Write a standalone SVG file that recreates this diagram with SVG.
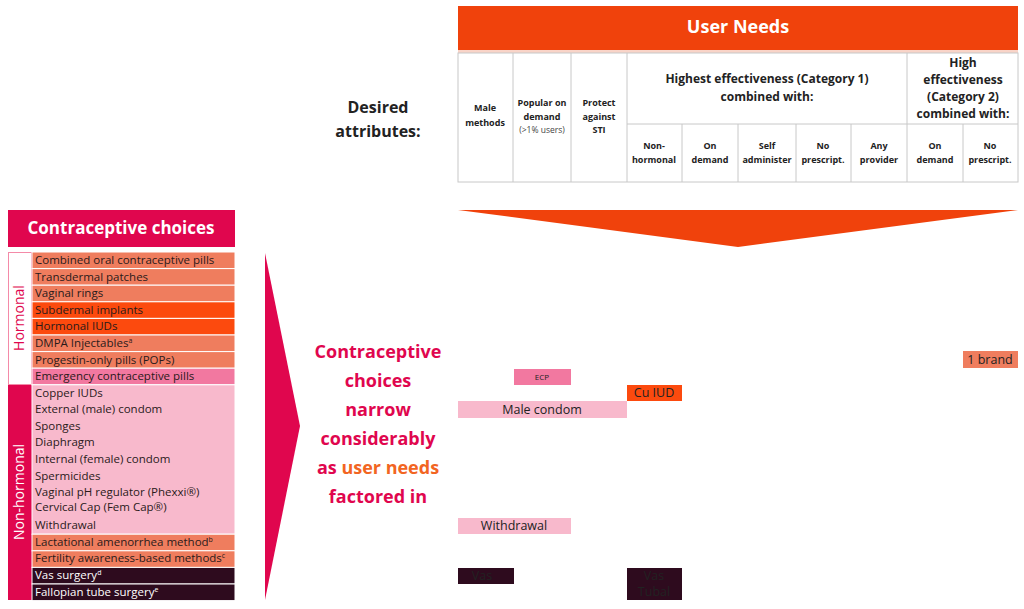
<svg xmlns="http://www.w3.org/2000/svg" width="1024" height="609" viewBox="0 0 1024 609">
<style>
text{font-family:"Open Sans","DejaVu Sans",sans-serif}
.r{font-size:11.5px;fill:#2a1a1a}
.w{fill:#fff}
.h{font-size:9px;font-weight:bold;fill:#222;text-anchor:middle}
.g{stroke:#c8c8c8;stroke-width:1;fill:none}
.b{font-size:12.5px;text-anchor:middle;fill:#222}
</style>
<rect width="1024" height="609" fill="#fff"/>
<g id="header">
<rect x="458" y="6" width="560" height="44" fill="#f0420c"/>
<text x="738" y="33" font-size="18" font-weight="bold" fill="#fff" text-anchor="middle">User Needs</text>
<rect x="458" y="50" width="560" height="3" fill="#f9d4c8"/>
</g>
<g id="table">
<rect x="458" y="53" width="560" height="129" class="g"/>
<path class="g" d="M513 53V182M571 53V182M627 53V182M907 53V182M627 124H1018M682 124V182M738 124V182M796 124V182M851 124V182M963 124V182"/>
<text class="h" x="485" y="111">Male</text><text class="h" x="485" y="126">methods</text>
<text class="h" x="542" y="106">Popular on</text><text class="h" x="542" y="120">demand</text><text x="542" y="133" font-size="8.5" fill="#444" text-anchor="middle">(&gt;1% users)</text>
<text class="h" x="599" y="106">Protect</text><text class="h" x="599" y="120">against</text><text class="h" x="599" y="133">STI</text>
<text x="767" y="83" font-size="12" font-weight="bold" fill="#222" text-anchor="middle">Highest effectiveness (Category 1)</text>
<text x="767" y="101" font-size="12" font-weight="bold" fill="#222" text-anchor="middle">combined with:</text>
<text x="963" y="67" font-size="12" font-weight="bold" fill="#222" text-anchor="middle">High</text>
<text x="963" y="84" font-size="12" font-weight="bold" fill="#222" text-anchor="middle">effectiveness</text>
<text x="963" y="101" font-size="12" font-weight="bold" fill="#222" text-anchor="middle">(Category 2)</text>
<text x="963" y="118" font-size="12" font-weight="bold" fill="#222" text-anchor="middle">combined with:</text>
<text class="h" x="654" y="149">Non-</text><text class="h" x="654" y="163">hormonal</text>
<text class="h" x="710" y="149">On</text><text class="h" x="710" y="163">demand</text>
<text class="h" x="767" y="149">Self</text><text class="h" x="767" y="163">administer</text>
<text class="h" x="823" y="149">No</text><text class="h" x="823" y="163">prescript.</text>
<text class="h" x="879" y="149">Any</text><text class="h" x="879" y="163">provider</text>
<text class="h" x="935" y="149">On</text><text class="h" x="935" y="163">demand</text>
<text class="h" x="990" y="149">No</text><text class="h" x="990" y="163">prescript.</text>
</g>
<g id="desired">
<text x="378" y="113" font-size="16" font-weight="bold" fill="#222" text-anchor="middle">Desired</text>
<text x="378" y="137" font-size="16" font-weight="bold" fill="#222" text-anchor="middle">attributes:</text>
</g>
<g id="connectors">
<polygon points="458,210 1018,210 738,247" fill="#f0420c"/>
<polygon points="265,253 265,600 300,426" fill="#e0064e"/>
</g>
<g id="choices">
<rect x="8" y="210" width="227" height="37" fill="#e0064e"/>
<text x="121" y="234" font-size="17" font-weight="bold" fill="#fff" text-anchor="middle">Contraceptive choices</text>
<rect x="8.5" y="252.5" width="23" height="132" fill="#fff" stroke="#f48aa8"/>
<text transform="translate(24 318) rotate(-90)" font-size="14" fill="#e0064e" text-anchor="middle">Hormonal</text>
<rect x="8" y="385" width="24" height="215" fill="#e0064e"/>
<text transform="translate(24 492) rotate(-90)" font-size="14" fill="#fff" text-anchor="middle">Non-hormonal</text>
<g stroke="#fff" stroke-width="1">
<rect x="32" y="252" width="203" height="16.6" fill="#ef7d5e"/>
<rect x="32" y="268.6" width="203" height="16.6" fill="#ef7d5e"/>
<rect x="32" y="285.2" width="203" height="16.6" fill="#ef7d5e"/>
<rect x="32" y="301.8" width="203" height="16.6" fill="#fc4a0e"/>
<rect x="32" y="318.4" width="203" height="16.6" fill="#fc4a0e"/>
<rect x="32" y="335" width="203" height="16.6" fill="#ef7d5e"/>
<rect x="32" y="351.6" width="203" height="16.6" fill="#ef7d5e"/>
<rect x="32" y="368.2" width="203" height="16.6" fill="#f278a0"/>
<rect x="32" y="384.8" width="203" height="149.4" fill="#f8b9cc"/>
<rect x="32" y="534.2" width="203" height="16.6" fill="#ef7d5e"/>
<rect x="32" y="550.8" width="203" height="16.6" fill="#ef7d5e"/>
<rect x="32" y="567.4" width="203" height="16.6" fill="#2e0b1e"/>
<rect x="32" y="584" width="203" height="16.6" fill="#2e0b1e"/>
</g>
<g class="r">
<text x="35" y="264">Combined oral contraceptive pills</text>
<text x="35" y="281">Transdermal patches</text>
<text x="35" y="297">Vaginal rings</text>
<text x="35" y="314">Subdermal implants</text>
<text x="35" y="330">Hormonal IUDs</text>
<text x="35" y="347">DMPA Injectables<tspan font-size="7" dy="-4">a</tspan></text>
<text x="35" y="364">Progestin-only pills (POPs)</text>
<text x="35" y="380">Emergency contraceptive pills</text>
<text x="35" y="397">Copper IUDs</text>
<text x="35" y="413">External (male) condom</text>
<text x="35" y="430">Sponges</text>
<text x="35" y="446">Diaphragm</text>
<text x="35" y="463">Internal (female) condom</text>
<text x="35" y="480">Spermicides</text>
<text x="35" y="496">Vaginal pH regulator (Phexxi®)</text>
<text x="35" y="511">Cervical Cap (Fem Cap®)</text>
<text x="35" y="529">Withdrawal</text>
<text x="35" y="546">Lactational amenorrhea method<tspan font-size="7" dy="-4">b</tspan></text>
<text x="35" y="562">Fertility awareness-based methods<tspan font-size="7" dy="-4">c</tspan></text>
<text x="35" y="579" fill="#fff">Vas surgery<tspan font-size="7" dy="-4">d</tspan></text>
<text x="35" y="596" fill="#fff">Fallopian tube surgery<tspan font-size="7" dy="-4">e</tspan></text>
</g>
</g>
<g id="narrow" font-size="18" font-weight="bold" fill="#e0064e" text-anchor="middle">
<text x="378" y="358">Contraceptive</text>
<text x="378" y="387">choices</text>
<text x="378" y="416">narrow</text>
<text x="378" y="445">considerably</text>
<text x="378" y="474">as <tspan fill="#f26522">user needs</tspan></text>
<text x="378" y="503">factored in</text>
</g>
<g id="bars">
<rect x="963" y="351" width="55" height="17" fill="#ef7d5e"/><text class="b" x="990" y="364">1 brand</text>
<rect x="514" y="369" width="57" height="16" fill="#f278a0"/><text x="542" y="380" font-size="8" fill="#222" text-anchor="middle">ECP</text>
<rect x="627" y="385" width="55" height="16" fill="#fc4a0e"/><text class="b" x="654" y="397" fill="#fff">Cu IUD</text>
<rect x="458" y="401" width="169" height="17" fill="#f8b9cc"/><text class="b" x="542" y="414">Male condom</text>
<rect x="458" y="518" width="113" height="16" fill="#f8b9cc"/><text class="b" x="514" y="530">Withdrawal</text>
<rect x="458" y="568" width="56" height="16" fill="#2e0b1e"/><text class="b" x="482" y="580" fill="#fff">Vas</text>
<rect x="627" y="568" width="55" height="16" fill="#2e0b1e"/><text class="b" x="654" y="580" fill="#fff">Vas</text>
<rect x="627" y="584" width="55" height="16" fill="#2e0b1e"/><text class="b" x="654" y="596" fill="#fff">Tubal</text>
</g>
</svg>
